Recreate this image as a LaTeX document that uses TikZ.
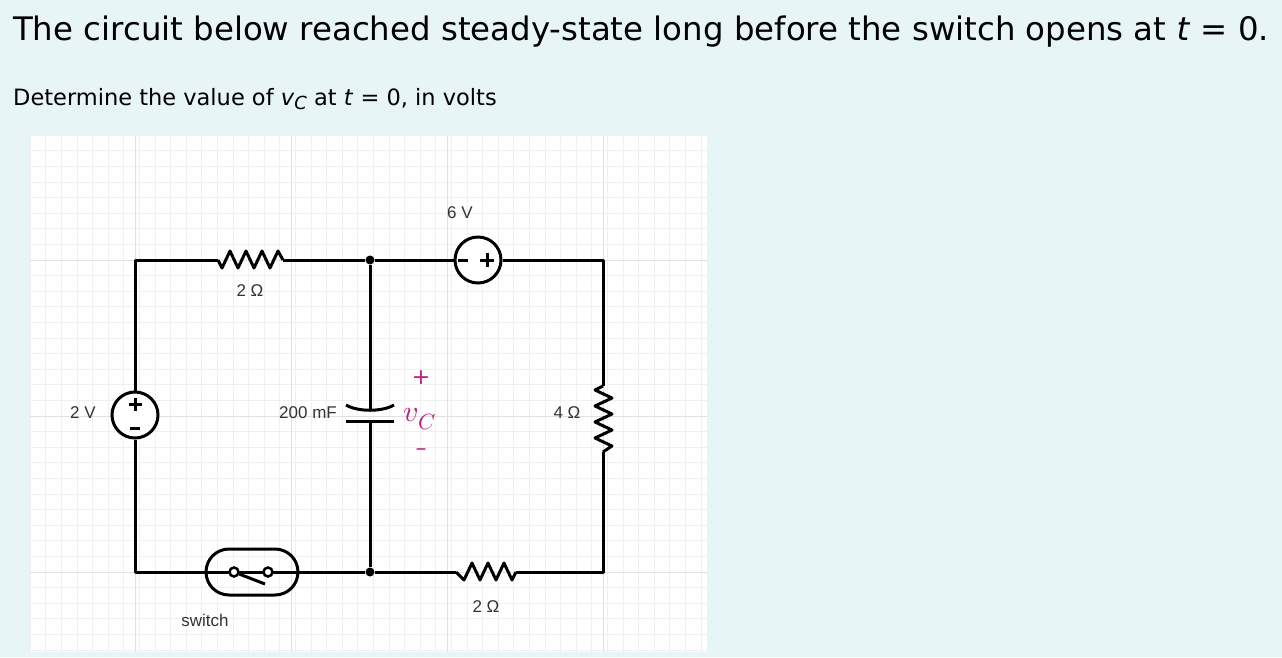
\documentclass[tikz,border=0pt]{standalone}
\usepackage{fontspec}
\setmainfont{DejaVu Sans}
\newfontfamily\arialf{Liberation Sans}
\newfontfamily\lmf{Latin Modern Math}
\definecolor{bgc}{HTML}{E8F5F6}
\definecolor{gridminor}{HTML}{F0F0F0}
\definecolor{gridmajor}{HTML}{E0E0E0}
\definecolor{vcm}{HTML}{C0207F}
\begin{document}
\begin{tikzpicture}[x=1pt,y=-1pt,
  wire/.style={line width=3pt,line join=round},
  lbl/.style={font=\arialf\fontsize{17}{17}\selectfont,inner sep=1pt,text=black!80},
  dot/.style={circle,fill=black,inner sep=0pt,minimum size=9pt},
  src/.style={circle,draw,line width=3pt,minimum size=46pt,inner sep=0pt,fill=white}]
\fill[bgc] (0,0) rectangle (1282,657);
\useasboundingbox (0,0) rectangle (1282,657);
\fill[white] (30,135) rectangle (707,652);
\foreach \i in {0,...,43} \draw[gridminor,line width=0.6pt] (30+15.6*\i,135) -- (30+15.6*\i,652);
\foreach \i in {0,...,33} \draw[gridminor,line width=0.6pt] (30,135+15.6*\i) -- (707,135+15.6*\i);
\foreach \x in {135,291,447,603} \draw[gridmajor,line width=0.8pt] (\x,135) -- (\x,652);
\foreach \y in {260,416,572} \draw[gridmajor,line width=0.8pt] (30,\y) -- (707,\y);
\node[anchor=west,inner sep=0,font=\fontsize{32.4}{32.4}\selectfont] (title) at (13,32) {The circuit below reached steady-state long before the switch opens at \textit{t} = 0.};
\node[anchor=west,inner sep=0,font=\fontsize{22.5}{22.5}\selectfont] (q) at (13,99) {Determine the value of \textit{v}\raisebox{-0.3ex}{\fontsize{18}{18}\selectfont\textit{C}} at \textit{t} = 0, in volts};
\coordinate (TL) at (135,260); \coordinate (TR) at (603,260);
\coordinate (BL) at (135,572); \coordinate (BR) at (603,572);
\coordinate (R1a) at (218,260); \coordinate (R1b) at (283,260);
\coordinate (R3a) at (456,572); \coordinate (R3b) at (516,572);
\coordinate (R2a) at (603,386); \coordinate (R2b) at (603,452);
\coordinate (C1) at (370,410); \coordinate (C2) at (370,421);
\node[dot] (J1) at (370,260) {};
\node[dot] (J2) at (370,572) {};
\node[src] (V1) at (135,415) {};
\node[src] (V2) at (478,260) {};
\draw[wire] (V1) -- (TL) -- (R1a);
\draw[wire] (R1a) -- ++(4,8) -- ++(8,-17) -- ++(8,17) -- ++(8,-17) -- ++(8,17) -- ++(8,-17) -- ++(8,17) -- ++(8,-17) -- (R1b);
\draw[wire] (R1b) -- (J1) -- (V2.west);
\draw[wire] (V2.east) -- (TR) -- (R2a);
\draw[wire] (R2a) -- ++(-8,4) -- ++(17,8) -- ++(-17,8) -- ++(17,8) -- ++(-17,8) -- ++(17,8) -- ++(-17,8) -- ++(17,8) -- ++(-9,6) -- (R2b);
\draw[wire] (R2b) -- (BR) -- (R3b);
\draw[wire] (R3b) -- ++(-4,8) -- ++(-8,-17) -- ++(-8,17) -- ++(-8,-17) -- ++(-8,17) -- ++(-8,-17) -- ++(-8,17) -- (R3a);
\draw[wire] (R3a) -- (J2) -- (206,572);
\draw[wire] (V1) -- (BL) -- (204,572);
\draw[wire] (J1) -- (C1);
\draw[wire] (J2) -- (C2);
\draw[wire] (346,405) .. controls (358,412) and (382,412) .. (394,405);
\draw[wire] (346,421) -- (394,421);
\draw[wire,rounded corners=23pt] (206,549) rectangle (298,595);
\node[circle,draw,line width=2.5pt,fill=white,inner sep=0pt,minimum size=9pt] (s1) at (234,572) {};
\node[circle,draw,line width=2.5pt,fill=white,inner sep=0pt,minimum size=9pt] (s2) at (268,572) {};
\draw[wire] (298,572) -- (s2);
\draw[wire] (204,572) -- (s1);
\draw[wire] (s1) -- (265,584);
\draw[line width=3pt] (135,398) -- (135,411) (128.5,404.5) -- (141.5,404.5) (130,428) -- (140,428);
\draw[line width=3pt] (458,260) -- (468,260) (480,260) -- (494,260) (487,253) -- (487,267);
\node[lbl] (l1) at (250,291) {2 Ω};
\node[lbl] (l2) at (460,213) {6 V};
\node[lbl] (l3) at (83,413) {2 V};
\node[lbl] (l4) at (308,413) {200 mF};
\node[lbl] (l5) at (567,413) {4 Ω};
\node[lbl] (l6) at (486,607) {2 Ω};
\node[lbl] (l7) at (205,620) {switch};
\node[vcm,font=\fontsize{22}{22}\selectfont] (pl) at (421,378) {+};
\node[vcm,inner sep=0pt] (vc) at (419,419) {\lmf\fontsize{30}{30}\selectfont 𝑣\raisebox{-0.25em}{\fontsize{22}{22}\selectfont 𝐶}};
\node[vcm,font=\fontsize{22}{22}\selectfont] (mi) at (421,452) {–};
\end{tikzpicture}
\end{document}
